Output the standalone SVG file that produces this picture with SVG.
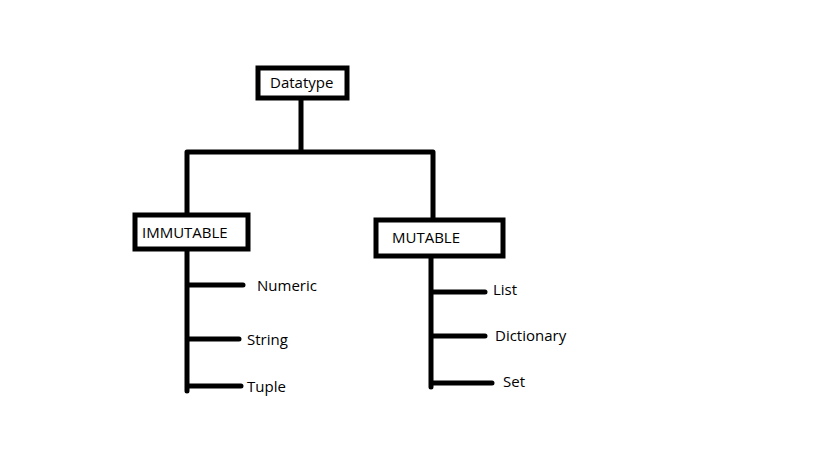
<svg xmlns="http://www.w3.org/2000/svg" width="819" height="460" viewBox="0 0 819 460">
<style>
.box{fill:#fff;stroke:#000;stroke-width:5}
.ln{stroke:#000;stroke-width:5;fill:none;stroke-linecap:round}
text{font-family:"Open Sans","Liberation Sans",sans-serif;font-size:15px;fill:#000}
</style>
<rect width="819" height="460" fill="#fff"/>
<g id="connectors">
<path class="ln" d="M301 99V152M187 152H433M187 152V213M433 152V218"/>
<path class="ln" d="M187 250V391M187 285H243M187 339H239M187 386H241"/>
<path class="ln" d="M431 257V387M431 292H485M431 336H485M431 383H492"/>
</g>
<g id="datatype"><rect class="box" x="258" y="68" width="89" height="30"/><text x="270" y="88">Datatype</text></g>
<g id="immutable"><rect class="box" x="135" y="215" width="113" height="34"/><text x="142" y="238">IMMUTABLE</text></g>
<g id="mutable"><rect class="box" x="376" y="220" width="127" height="36"/><text x="392" y="243">MUTABLE</text></g>
<g id="numeric"><text x="257" y="291">Numeric</text></g>
<g id="string"><text x="247" y="345">String</text></g>
<g id="tuple"><text x="247" y="392">Tuple</text></g>
<g id="list"><text x="493" y="295">List</text></g>
<g id="dictionary"><text x="495" y="341">Dictionary</text></g>
<g id="set"><text x="503" y="387">Set</text></g>
</svg>
